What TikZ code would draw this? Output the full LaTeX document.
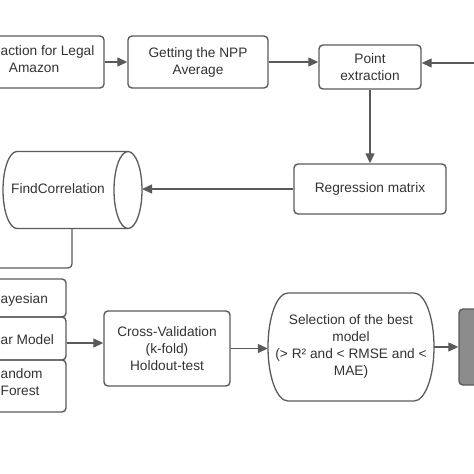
\documentclass[tikz,border=0pt]{standalone}
\usepackage{fontspec}
\setmainfont{Liberation Sans}
\usepackage{xcolor}
\usetikzlibrary{arrows.meta,calc,positioning}
\definecolor{linegray}{HTML}{5A5A5A}
\definecolor{textgray}{HTML}{333333}
\definecolor{boxgray}{HTML}{8C8C8C}

\begin{document}
\begin{tikzpicture}[x=1pt,y=-1pt,
	box/.style={draw=linegray,line width=1.4pt,rounded corners=4pt,inner sep=0pt},
	txt/.style={text=textgray,font=\fontsize{13.7}{17}\selectfont,align=center,inner sep=0pt},
	arr/.style={draw=linegray,line width=1.3pt,-{Triangle[length=10pt,width=9pt]}},
	line/.style={draw=linegray,line width=1.3pt}]
			\useasboundingbox (0,0) rectangle (474,474);
			\node[box,minimum width=140pt,minimum height=52pt] (extract) at (34,62) {};
			\node[txt,anchor=west] (extractA) at (0.5,52) {action for Legal};
			\node[txt] (extractB) at (34,68) {Amazon};
			\node[box,txt,minimum width=140pt,minimum height=52pt] (npp) at (198,62) {Getting the NPP\\Average};
			\node[box,txt,minimum width=102pt,minimum height=44pt] (point) at (370,67) {Point\\extraction};
			\node[box,txt,minimum width=152pt,minimum height=50pt] (regr) at (370,189) {Regression matrix};
			\node[txt] (findcor) at (58,189) {FindCorrelation};
			\coordinate (cylE) at (142,190);
			\coordinate (cylS) at (72,228.5);
			\coordinate (stackL) at (-10,268);
			\draw[line] (128,151.5) -- (17,151.5) arc[start angle=270,end angle=90,x radius=14,y radius=38.5] -- (128,228.5);
			\draw[line] (128,190) ellipse[x radius=14,y radius=38.5];
			\node[box,minimum width=106pt,minimum height=38pt] (bayes) at (13,298) {};
			\node[box,minimum width=106pt,minimum height=43pt] (linear) at (13,338.5) {};
			\node[box,minimum width=106pt,minimum height=52pt] (forest) at (13,386) {};
			\node[txt,anchor=west] (bayesT) at (0.5,300) {ayesian};
			\node[txt,anchor=west] (linearT) at (0.5,340) {ar Model};
			\node[txt,anchor=west] (forestA) at (0.5,374) {andom};
			\node[txt,anchor=west] (forestB) at (0.5,391) {Forest};
			\node[box,txt,minimum width=126pt,minimum height=75pt] (cv) at (167,348.5) {Cross-Validation\\(k-fold)\\Holdout-test};
			\node[txt,minimum width=166pt,minimum height=108pt] (select) at (351,346) {Selection of the best\\model\\(> R² and < RMSE and <\\MAE)};
			\draw[line] (288,293) -- (414,293) arc[start angle=270,end angle=450,x radius=20,y radius=54] -- (288,401) arc[start angle=90,end angle=270,x radius=20,y radius=54] -- cycle;
			\node[box,fill=boxgray,minimum width=64pt,minimum height=76pt] (best) at (491,347) {};
			\coordinate (feed) at (480,63);
			\coordinate (stackR) at ($(linear.east)+(0,4.5)$);
			\draw[arr] (extract) -- (npp);
			\draw[arr] (npp) -- (npp -| point.west);
			\draw[arr] (feed) -- (feed -| point.east);
			\draw[arr] (point) -- (regr);
			\draw[arr] (regr) -- (regr -| cylE);
			\draw[line,rounded corners=4pt] (cylS) |- (stackL);
			\draw[arr] (stackR) -- (stackR -| cv.west);
			\draw[arr] (cv.east) -- (cv.east -| select.west);
			\draw[arr] (select.east |- best.west) -- (best.west);
\end{tikzpicture}
\end{document}
